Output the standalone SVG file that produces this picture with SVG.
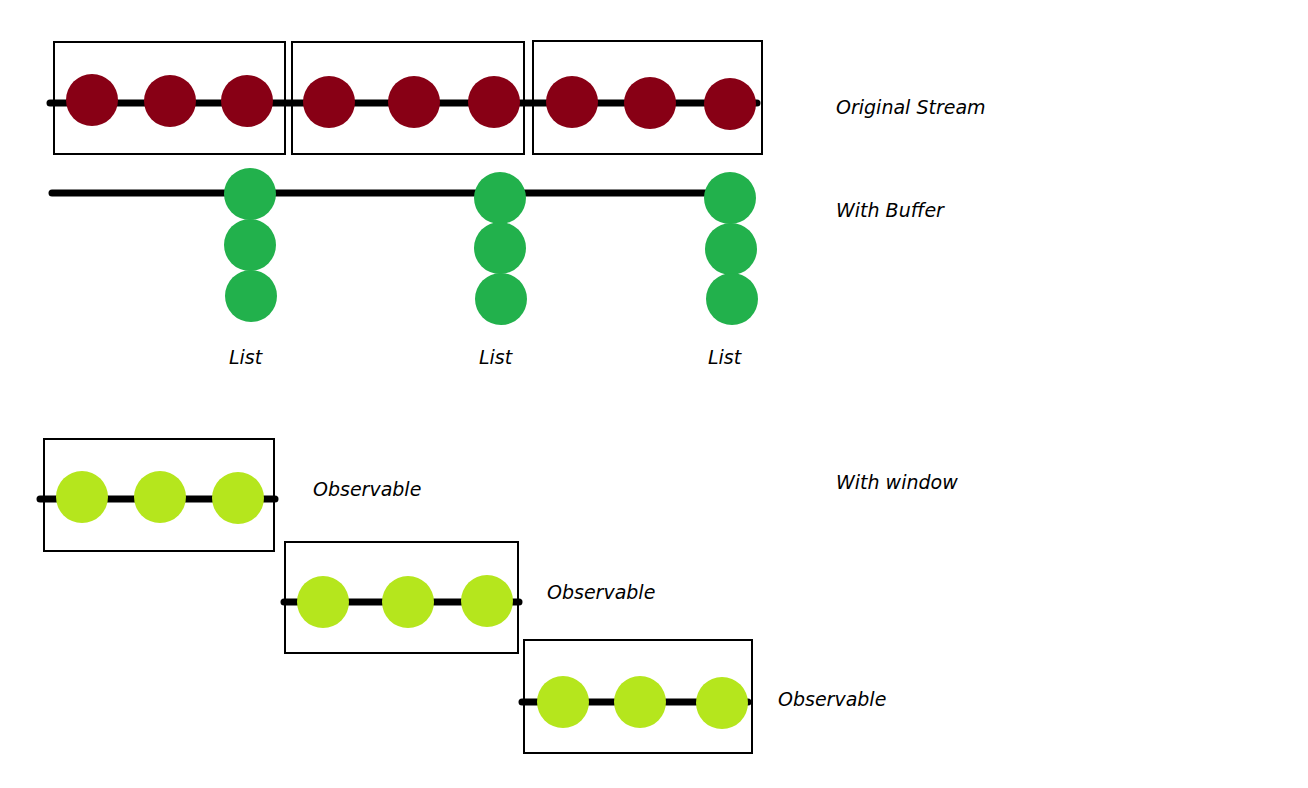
<svg xmlns="http://www.w3.org/2000/svg" width="1308" height="788" viewBox="0 0 1308 788">
<style>
.box{fill:none;stroke:#000;stroke-width:2}
.ln{stroke:#000;stroke-width:7;stroke-linecap:round}
.r{fill:#880015}.g{fill:#22b14c}.y{fill:#b5e61d}
text{font-family:"DejaVu Sans",sans-serif;font-style:italic;font-size:19px;fill:#000}
</style>
<rect width="1308" height="788" fill="#fff"/>
<g id="connectors">
<line class="ln" x1="50" y1="103" x2="757" y2="103"/>
<line class="ln" x1="52" y1="193" x2="725" y2="193"/>
<line class="ln" x1="40" y1="499" x2="275" y2="499"/>
<line class="ln" x1="284" y1="602" x2="519" y2="602"/>
<line class="ln" x1="522" y1="702" x2="748" y2="702"/>
</g>
<g id="original">
<rect class="box" x="54" y="42" width="231" height="112"/>
<rect class="box" x="292" y="42" width="232" height="112"/>
<rect class="box" x="533" y="41" width="229" height="113"/>
<circle class="r" cx="92" cy="100" r="26"/><circle class="r" cx="170" cy="101" r="26"/><circle class="r" cx="247" cy="101" r="26"/>
<circle class="r" cx="329" cy="102" r="26"/><circle class="r" cx="414" cy="102" r="26"/><circle class="r" cx="494" cy="102" r="26"/>
<circle class="r" cx="572" cy="102" r="26"/><circle class="r" cx="650" cy="103" r="26"/><circle class="r" cx="730" cy="104" r="26"/>
<text x="836" y="114">Original Stream</text>
</g>
<g id="buffer">
<circle class="g" cx="250" cy="194" r="26"/><circle class="g" cx="250" cy="245" r="26"/><circle class="g" cx="251" cy="296" r="26"/>
<circle class="g" cx="500" cy="198" r="26"/><circle class="g" cx="500" cy="248" r="26"/><circle class="g" cx="501" cy="299" r="26"/>
<circle class="g" cx="730" cy="198" r="26"/><circle class="g" cx="731" cy="249" r="26"/><circle class="g" cx="732" cy="299" r="26"/>
<text x="836" y="217">With Buffer</text>
<text x="229" y="364">List</text><text x="479" y="364">List</text><text x="708" y="364">List</text>
</g>
<g id="window">
<text x="836" y="489">With window</text>
<rect class="box" x="44" y="439" width="230" height="112"/>
<circle class="y" cx="82" cy="497" r="26"/><circle class="y" cx="160" cy="497" r="26"/><circle class="y" cx="238" cy="498" r="26"/>
<text x="313" y="496">Observable</text>
<rect class="box" x="285" y="542" width="233" height="111"/>
<circle class="y" cx="323" cy="602" r="26"/><circle class="y" cx="408" cy="602" r="26"/><circle class="y" cx="487" cy="601" r="26"/>
<text x="547" y="599">Observable</text>
<rect class="box" x="524" y="640" width="228" height="113"/>
<circle class="y" cx="563" cy="702" r="26"/><circle class="y" cx="640" cy="702" r="26"/><circle class="y" cx="722" cy="703" r="26"/>
<text x="778" y="706">Observable</text>
</g>
</svg>
